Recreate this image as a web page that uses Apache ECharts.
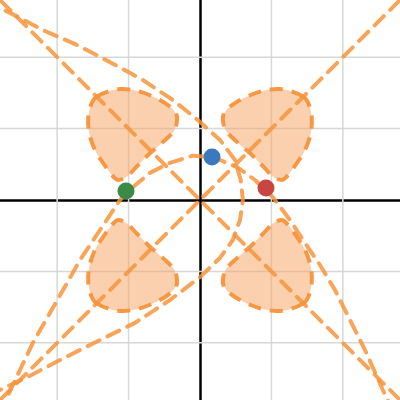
<!DOCTYPE html>
<html><head><meta charset="utf-8">
<script src="https://cdn.jsdelivr.net/npm/echarts@6/dist/echarts.min.js"></script>
<style>html,body{margin:0;padding:0;background:#fff}#c{width:400px;height:400px}</style>
</head><body><div id="c"></div>
<script>
const gridTicks = [-2,-1,1,2];
const lineDiag1 = [[-3,-3],[3,3]];
const lineDiag2 = [[-3,3],[3,-3]];
const curve1 = [[-3,2.78],[-2.66,2.62],[-2.20,2.38],[-1.72,2.17],[-1.26,1.93],[-0.80,1.68],[-0.38,1.40],[-0.03,1.12],[0.28,0.84],[0.49,0.56],[0.57,0.28],[0.60,0],[0.56,-0.28],[0.46,-0.56],[0.28,-0.81],[0,-1.08],[-0.42,-1.40],[-0.91,-1.72],[-1.40,-1.96],[-1.96,-2.24],[-2.42,-2.48],[-2.80,-2.66],[-3,-2.75]];
const curve2 = [[-2.78,-3],[-2.70,-2.76],[-2.52,-2.38],[-2.34,-2.00],[-2.10,-1.58],[-1.86,-1.16],[-1.68,-0.84],[-1.40,-0.42],[-1.12,0],[-0.94,0.18],[-0.70,0.38],[-0.42,0.52],[-0.10,0.62],[0.18,0.60],[0.52,0.46],[0.77,0.28],[1.02,0.04],[1.26,-0.28],[1.47,-0.60],[1.68,-0.91],[1.89,-1.26],[2.10,-1.68],[2.31,-2.10],[2.56,-2.66],[2.72,-3]];
const blobTL = [[-1.447,1.447],[-1.214,1.541],[-1.027,1.55],[-0.84,1.517],[-0.607,1.424],[-0.42,1.307],[-0.327,1.19],[-0.327,1.074],[-0.373,0.957],[-0.514,0.817],[-0.70,0.654],[-0.887,0.467],[-1.027,0.327],[-1.144,0.28],[-1.214,0.327],[-1.354,0.514],[-1.471,0.70],[-1.55,0.934],[-1.564,1.167],[-1.517,1.354]];
const mirrorX = [1,-1,1,-1];
const mirrorY = [1,1,-1,-1];
const pointBlue = [[0.168,0.602]];
const pointRed = [[0.924,0.168]];
const pointGreen = [[-1.036,0.126]];

const orange = '#f7943c';
const blobs = mirrorX.map((mx,i)=>blobTL.map(p=>[p[0]*mx,p[1]*mirrorY[i]]));

const dashLine = d => ({type:'line',data:d,showSymbol:false,silent:true,z:3,
  lineStyle:{color:orange,width:4,type:[13,9],opacity:0.85,cap:'round'}});
const blobSeries = blobs.map(b=>({
  type:'custom',z:2,silent:true,data:[0],
  renderItem:(params,api)=>({type:'polygon',shape:{points:b.map(p=>api.coord(p)),smooth:0.35},
    style:{fill:'rgba(248,164,100,0.55)',stroke:orange,lineWidth:4,lineDash:[13,9],opacity:0.95}})
}));
const gridSeries = {
  type:'custom',z:1,silent:true,data:gridTicks,
  renderItem:(params,api)=>{
    const v=api.value(0);
    const a=api.coord([v,-3]), b=api.coord([v,3]), c=api.coord([-3,v]), d=api.coord([3,v]);
    const st={stroke:'#d8d8d8',lineWidth:1.5};
    return {type:'group',children:[
      {type:'line',shape:{x1:a[0],y1:a[1],x2:b[0],y2:b[1]},style:st},
      {type:'line',shape:{x1:c[0],y1:c[1],x2:d[0],y2:d[1]},style:st}]};
  }
};
const pt = (d,c)=>({type:'scatter',data:d,symbolSize:17,z:5,itemStyle:{color:c,opacity:1}});

const chart = echarts.init(document.getElementById('c'));
const ax = {type:'value',min:-2.8,max:2.8,axisLabel:{show:false},axisTick:{show:false},
    axisLine:{onZero:true,lineStyle:{color:'#000',width:2.5}},splitLine:{show:false}};
chart.setOption({
  animation:false,
  grid:{left:0,right:0,top:0,bottom:0},
  xAxis:ax, yAxis:ax,
  series:[gridSeries, ...blobSeries, dashLine(lineDiag1), dashLine(lineDiag2), dashLine(curve1), dashLine(curve2),
    pt(pointBlue,'#3a79bd'), pt(pointRed,'#c84541'), pt(pointGreen,'#3b8a48')]
});
</script></body></html>
